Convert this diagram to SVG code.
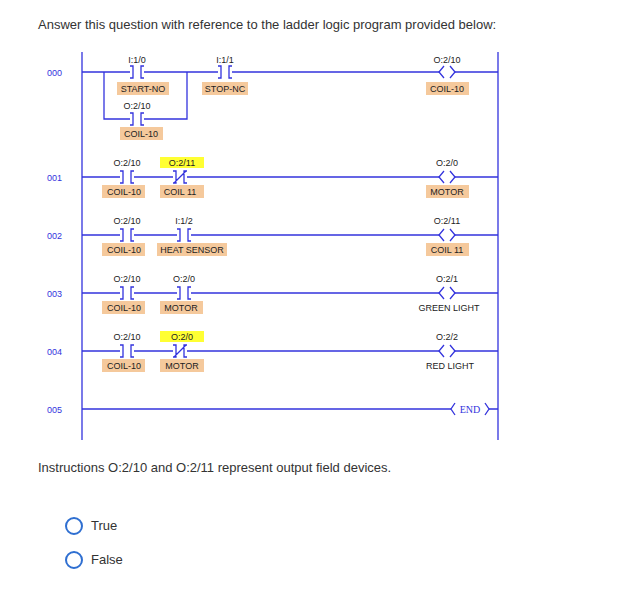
<svg xmlns="http://www.w3.org/2000/svg" width="627" height="591" viewBox="0 0 627 591">
<defs><style>
.w{stroke:#3333dd;stroke-width:1.3;fill:none}
.a{font-family:"Liberation Sans",Arial,sans-serif;font-size:9px;fill:#222;text-anchor:middle}
.n{font-family:"Liberation Sans",Arial,sans-serif;font-size:9px;fill:#3333dd}
.q{font-family:"Liberation Sans",Arial,sans-serif;font-size:13px;fill:#333}
.tag{fill:#f5c99c}
.hl{fill:#ffff33}
</style></defs>
<rect width="627" height="591" fill="#fff"/>
<text class="q" x="38" y="29">Answer this question with reference to the ladder logic program provided below:</text>
<g id="connectors">
<path class="w" d="M82,52V440M498,52V440"/>
<path class="w" d="M82,72H130M144,72H218M232,72H440M454,72H498"/>
<path class="w" d="M104,72V119H130M144,119H187V72"/>
<path class="w" d="M82,177H120M134,177H173M187,177H440M454,177H498"/>
<path class="w" d="M82,235H120M134,235H177M191,235H440M454,235H498"/>
<path class="w" d="M82,293H120M134,293H177M191,293H440M454,293H498"/>
<path class="w" d="M82,351H120M134,351H173M187,351H440M454,351H498"/>
<path class="w" d="M82,409H451M489,409H498"/>
</g>
<g id="rungnums"><text class="n" x="47" y="76">000</text><text class="n" x="47" y="181">001</text><text class="n" x="47" y="239">002</text><text class="n" x="47" y="297">003</text><text class="n" x="47" y="355">004</text><text class="n" x="47" y="413">005</text></g>
<g id="r000">
<text class="a" x="137" y="63">I:1/0</text><path class="w" d="M130,66h3v12h-3M144,66h-3v12h3"/><rect class="tag" x="117" y="82" width="52" height="13"/><text class="a" x="143" y="92">START-NO</text>
<text class="a" x="137" y="109">O:2/10</text><path class="w" d="M130,113h3v12h-3M144,113h-3v12h3"/><rect class="tag" x="120" y="127" width="43" height="13"/><text class="a" x="141" y="137">COIL-10</text>
<text class="a" x="225" y="63">I:1/1</text><path class="w" d="M218,66h3v12h-3M232,66h-3v12h3"/><rect class="tag" x="202" y="82" width="46" height="13"/><text class="a" x="225" y="92">STOP-NC</text>
<text class="a" x="447" y="63">O:2/10</text><path class="w" d="M444,66l-5,6l5,6M450,66l5,6l-5,6"/><rect class="tag" x="426" y="82" width="43" height="13"/><text class="a" x="447" y="92">COIL-10</text>
</g>
<g id="r001">
<text class="a" x="127" y="166">O:2/10</text><path class="w" d="M120,171h3v12h-3M134,171h-3v12h3"/><rect class="tag" x="102" y="185" width="43" height="13"/><text class="a" x="124" y="195">COIL-10</text>
<rect class="hl" x="160" y="157" width="44" height="11"/><text class="a" x="182" y="166">O:2/11</text><path class="w" d="M173,171h3v12h-3M187,171h-3v12h3M174,183L186,171"/><rect class="tag" x="160" y="185" width="44" height="13"/><text class="a" x="180" y="195">COIL 11</text>
<text class="a" x="447" y="166">O:2/0</text><path class="w" d="M444,171l-5,6l5,6M450,171l5,6l-5,6"/><rect class="tag" x="426" y="185" width="43" height="13"/><text class="a" x="447" y="195">MOTOR</text>
</g>
<g id="r002">
<text class="a" x="127" y="224">O:2/10</text><path class="w" d="M120,229h3v12h-3M134,229h-3v12h3"/><rect class="tag" x="102" y="243" width="43" height="13"/><text class="a" x="124" y="253">COIL-10</text>
<text class="a" x="184" y="224">I:1/2</text><path class="w" d="M177,229h3v12h-3M191,229h-3v12h3"/><rect class="tag" x="157" y="243" width="70" height="13"/><text class="a" x="192" y="253">HEAT SENSOR</text>
<text class="a" x="447" y="224">O:2/11</text><path class="w" d="M444,229l-5,6l5,6M450,229l5,6l-5,6"/><rect class="tag" x="426" y="243" width="43" height="13"/><text class="a" x="447" y="253">COIL 11</text>
</g>
<g id="r003">
<text class="a" x="127" y="282">O:2/10</text><path class="w" d="M120,287h3v12h-3M134,287h-3v12h3"/><rect class="tag" x="102" y="301" width="43" height="13"/><text class="a" x="124" y="311">COIL-10</text>
<text class="a" x="184" y="282">O:2/0</text><path class="w" d="M177,287h3v12h-3M191,287h-3v12h3"/><rect class="tag" x="160" y="301" width="43" height="13"/><text class="a" x="181" y="311">MOTOR</text>
<text class="a" x="447" y="282">O:2/1</text><path class="w" d="M444,287l-5,6l5,6M450,287l5,6l-5,6"/><text class="a" x="449" y="311">GREEN LIGHT</text>
</g>
<g id="r004">
<text class="a" x="127" y="340">O:2/10</text><path class="w" d="M120,345h3v12h-3M134,345h-3v12h3"/><rect class="tag" x="102" y="359" width="43" height="13"/><text class="a" x="124" y="369">COIL-10</text>
<rect class="hl" x="160" y="331" width="44" height="11"/><text class="a" x="182" y="340">O:2/0</text><path class="w" d="M173,345h3v12h-3M187,345h-3v12h3M174,357L186,345"/><rect class="tag" x="160" y="359" width="44" height="13"/><text class="a" x="182" y="369">MOTOR</text>
<text class="a" x="447" y="340">O:2/2</text><path class="w" d="M444,345l-5,6l5,6M450,345l5,6l-5,6"/><text class="a" x="450" y="369">RED LIGHT</text>
</g>
<g id="r005">
<path class="w" d="M455,403l-4,6l4,6M485,403l4,6l-4,6"/><text x="470" y="413" style="font-family:'Liberation Serif',serif;font-size:10px;fill:#3333dd;text-anchor:middle">END</text>
</g>
<text class="q" x="38" y="472">Instructions O:2/10 and O:2/11 represent output field devices.</text>
<circle cx="74" cy="526" r="8" fill="none" stroke="#2f6fd1" stroke-width="2"/><text class="q" x="91" y="530">True</text>
<circle cx="74" cy="560" r="8" fill="none" stroke="#2f6fd1" stroke-width="2"/><text class="q" x="91" y="564">False</text>
</svg>
